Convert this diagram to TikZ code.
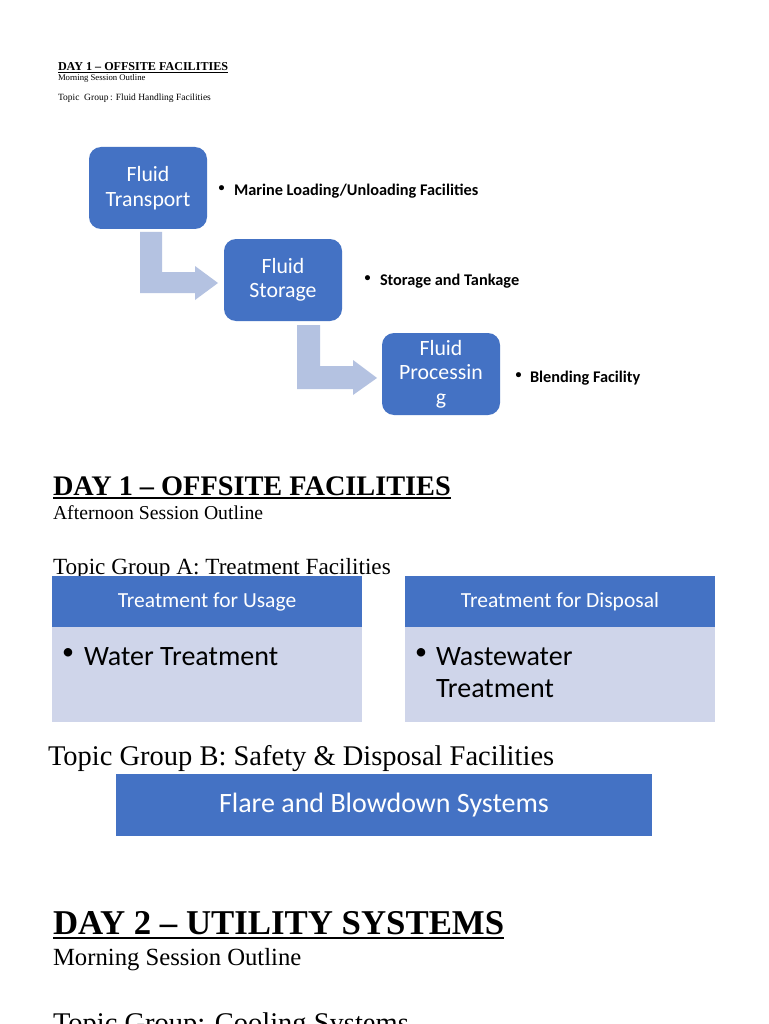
\documentclass[tikz,border=0pt]{standalone}
\usepackage{fontspec}
\setmainfont{Liberation Serif}
\newfontfamily\calib{Carlito}
\usetikzlibrary{calc}
\definecolor{accent}{HTML}{4472C4}
\definecolor{pale}{HTML}{CFD5EA}
\definecolor{arrowc}{HTML}{B4C2E1}
\tikzset{
  txt/.style={anchor=base west, inner sep=0pt, outer sep=0pt},
  fbox/.style={fill=accent, rounded corners=12pt, minimum width=118pt, minimum height=82pt, inner sep=0pt, text=white, align=center, font=\calib\fontsize{21.8}{24.5}\selectfont},
  bul/.style={txt, font=\calib\bfseries\fontsize{16.3}{19}\selectfont},
  bdot/.style={txt, font=\calib\bfseries\fontsize{12}{12}\selectfont},
  hdr/.style={fill=accent, minimum width=310pt, minimum height=51pt, inner sep=0pt, text=white, font=\calib\fontsize{21.5}{24}\selectfont},
  bdy/.style={fill=pale, minimum width=310pt, minimum height=95pt, inner sep=0pt},
  btxt/.style={txt, font=\calib\fontsize{28}{32}\selectfont},
  bigdot/.style={txt, font=\calib\fontsize{24}{24}\selectfont},
  blockarrow/.style={fill=arrowc, draw=none},
  uline/.style={line cap=butt}
}
\begin{document}
\begin{tikzpicture}[x=1pt,y=-1pt]
\useasboundingbox (0,0) rectangle (768,1024);
\clip (0,0) rectangle (768,1024);
\fill[white] (0,0) rectangle (768,1024);

% ---- Morning session (small) ----
\node[txt, font=\bfseries\fontsize{12.1}{14}\selectfont] (t1) at (58,71) {DAY 1 – OFFSITE FACILITIES};
\draw[uline, line width=0.8pt] ($(t1.base west)+(0,1.5)$) -- ($(t1.base east)+(0,1.5)$);
\node[txt, font=\fontsize{8.7}{10}\selectfont] (t2) at (58,80.5) {Morning Session Outline};
\node[txt, font=\fontsize{9.5}{11}\selectfont] (t3) at (58,101) {Topic\ \ Group\,: Fluid Handling Facilities};

% ---- process boxes ----
\node[fbox] (ft) at (148,188) {\raisebox{-2pt}{\parbox{118pt}{\centering Fluid\\Transport}}};
\node[fbox] (fs) at (283,280) {\raisebox{-2pt}{\parbox{118pt}{\centering Fluid\\Storage}}};
\node[fbox] (fp) at (441,374) {\raisebox{-1pt}{\parbox{118pt}{\centering Fluid\\Processin\\g}}};

% bent block arrows
\fill[blockarrow] (140,232) -- (162,232) -- (162,272) -- (195,272) -- (195,266) -- (218,283) -- (195,300) -- (195,293) -- (140,293) -- cycle;
\fill[blockarrow] (297,325) -- (320,325) -- (320,366) -- (353,366) -- (353,360) -- (377,378) -- (353,395) -- (353,389) -- (297,389) -- cycle;

% bullet labels
\node[bdot] (d1) at (218.5,191.5) {•};
\node[bul] (l1) at (234,195.5) {Marine Loading/Unloading Facilities};
\node[bdot] (d2) at (364.5,281.5) {•};
\node[bul] (l2) at (380,285.5) {Storage and Tankage};
\node[bdot] (d3) at (515.5,378.5) {•};
\node[bul] (l3) at (530,382.5) {Blending Facility};

% ---- Afternoon session ----
\node[txt, font=\bfseries\fontsize{28.3}{32}\selectfont] (t4) at (53,495) {DAY 1 – OFFSITE FACILITIES};
\draw[uline, line width=1.6pt] ($(t4.base west)+(0,3)$) -- ($(t4.base east)+(0,3)$);
\node[txt, font=\fontsize{19.7}{22}\selectfont] (t5) at (53,519) {Afternoon Session Outline};
\node[txt, font=\fontsize{23.2}{26}\selectfont] (t6) at (53,574) {Topic Group A: Treatment Facilities};

\node[hdr] (h1) at (207,601.5) {\raisebox{-2pt}{Treatment for Usage}};
\node[bdy] (b1) at (207,674.5) {};
\node[hdr] (h2) at (560,601.5) {\raisebox{-2pt}{Treatment for Disposal}};
\node[bdy] (b2) at (560,674.5) {};

\node[bigdot] (e1) at (62,659.5) {•};
\node[btxt] (w1) at (84,665) {Water Treatment};
\node[bigdot] (e2) at (415,659.5) {•};
\node[btxt] (w2) at (436,665) {Wastewater};
\node[btxt] (w3) at (436,697) {Treatment};

\node[txt, font=\fontsize{28.5}{32}\selectfont] (t7) at (48,765) {Topic Group B: Safety \& Disposal Facilities};
\node[fill=accent, minimum width=536pt, minimum height=62pt, inner sep=0pt, text=white, font=\calib\fontsize{28}{32}\selectfont] (fl) at (384,805) {\raisebox{-2pt}{Flare and Blowdown Systems}};

% ---- Day 2 ----
\node[txt, font=\bfseries\fontsize{34.8}{40}\selectfont] (t8) at (53,934) {DAY 2 – UTILITY SYSTEMS};
\draw[uline, line width=2pt] ($(t8.base west)+(0,3.5)$) -- ($(t8.base east)+(0,3.5)$);
\node[txt, font=\fontsize{24.7}{28}\selectfont] (t9) at (53,965) {Morning Session Outline};
\node[txt, font=\fontsize{28.5}{32}\selectfont] (t10) at (53,1032) {Topic Group: Cooling Systems};
\end{tikzpicture}
\end{document}
